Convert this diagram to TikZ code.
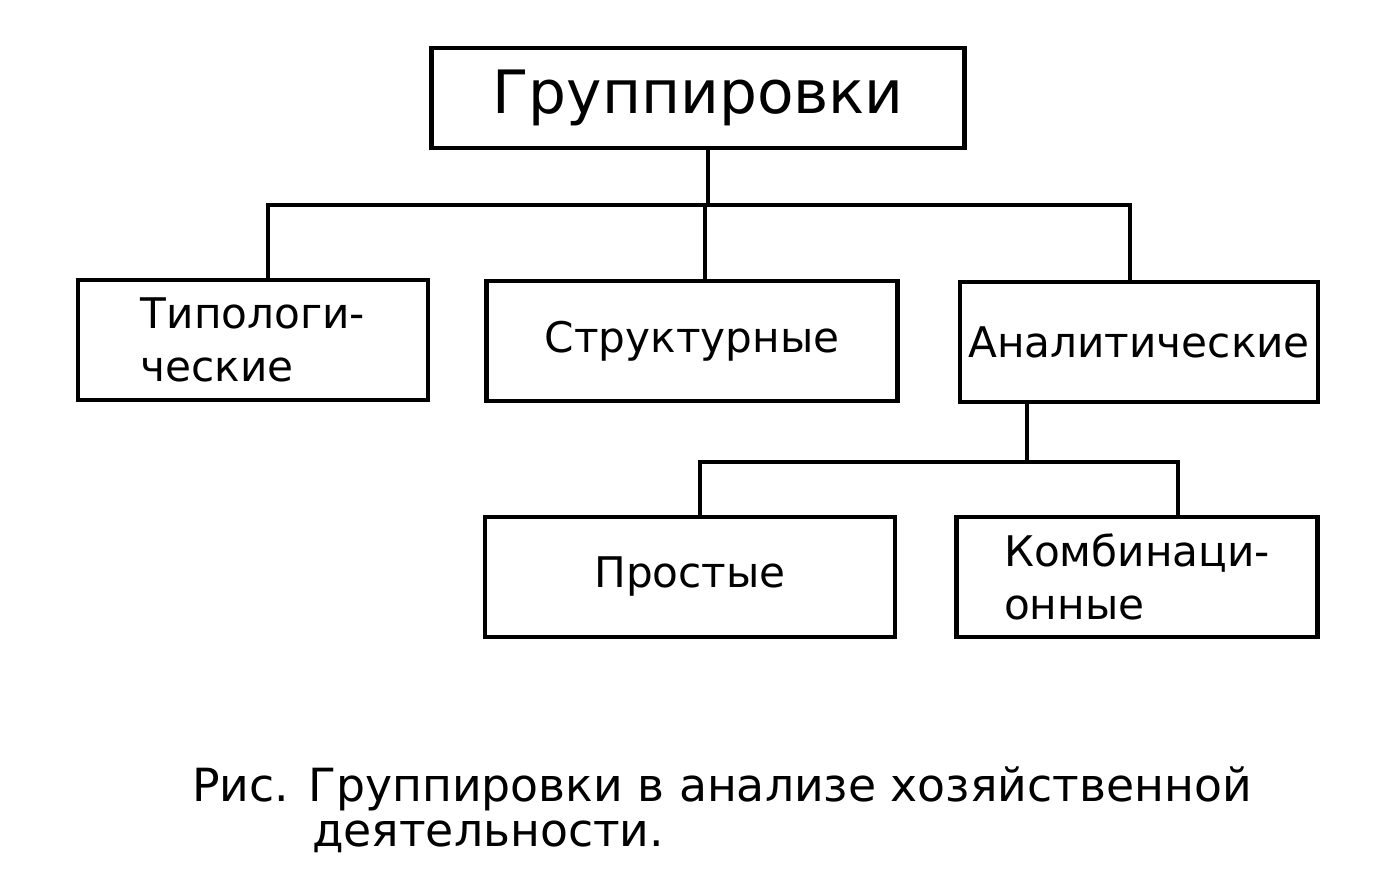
\documentclass[tikz,border=0pt]{standalone}
\usepackage{fontspec}
\setmainfont{DejaVu Sans}
\begin{document}
\begin{tikzpicture}[line width=1.3pt, x=0.01cm, y=0.01cm]
        \tikzset{box/.style={draw, minimum height=1.2cm, inner sep=0pt, align=left, font=\fontsize{12}{15}\selectfont}}
        \useasboundingbox (0,0) rectangle (1388,869);
        
        \node[box, minimum width=5.33cm, minimum height=1cm, font=\fontsize{17}{20}\selectfont] (grp) at (698,771) {Группировки};
        
        \node[box, minimum width=3.5cm] (tip) at (253,529) {Типологи-\\ческие};
        \node[box, minimum width=4.11cm] (str) at (692,528) {Структурные};
        \node[box, minimum width=3.58cm] (anl) at (1139,527) {Аналитические};
        
        \node[box, minimum width=4.1cm] (pro) at (690,292) {Простые};
        \node[box, minimum width=3.61cm] (kmb) at (1137,292) {Комбинаци-\\онные};
        
        \coordinate (b1) at (708,664);
        \coordinate (b2) at (1027,407);
        
        \draw[-] (grp.south -| b1) to (b1);
        \draw[-] (tip.north -| 268,0) |- (b1) -| (anl.north -| 1130,0);
        \draw[-] (b1) -| (str.north -| 705,0);
        
        \draw[-] (anl.south -| b2) to (b2);
        \draw[-] (pro.north -| 700,0) |- (b2) -| (kmb.north -| 1178,0);
        
        \node[anchor=west, font=\fontsize{13}{16}\selectfont] (cap1) at (178,80) {Рис. Группировки в анализе хозяйственной};
        \node[anchor=west, font=\fontsize{13}{16}\selectfont] (cap2) at (298,32) {деятельности.};
\end{tikzpicture}
\end{document}
